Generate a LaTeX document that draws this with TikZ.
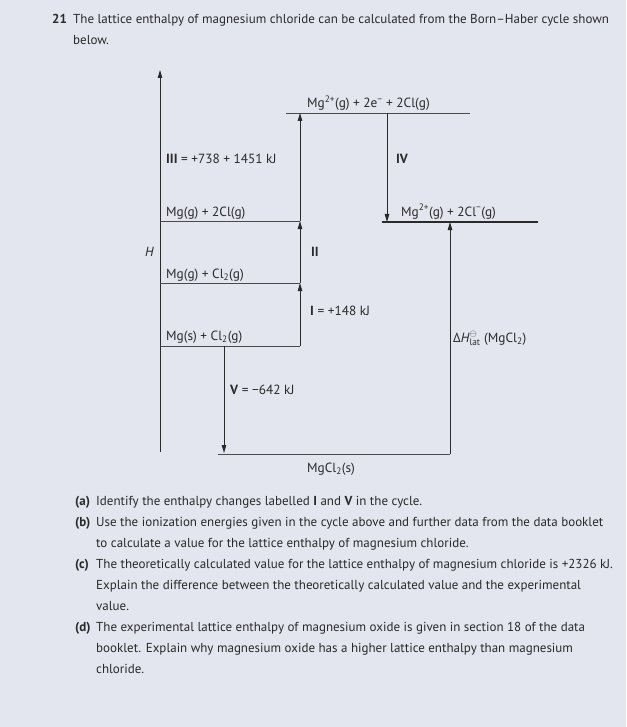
\documentclass[tikz,border=0pt]{standalone}
\usepackage{fontspec}
\setmainfont{PT Sans}
\usetikzlibrary{arrows.meta}
\definecolor{bgc}{HTML}{E3E6EE}
\definecolor{ink}{HTML}{2A2A2A}
\begin{document}
\begin{tikzpicture}[x=1pt,y=-1pt,
  txt/.style={anchor=base west,inner sep=0,font=\fontsize{13}{15}\selectfont,text=ink},
  lab/.style={anchor=base west,inner sep=0,font=\fontsize{13.3}{15}\selectfont,text=ink},
  lvl/.style={draw=ink!85,line width=0.7pt},
  arr/.style={draw=ink,line width=0.9pt,-{Triangle[length=8pt,width=4.5pt]}}]
\fill[bgc] (0,0) rectangle (626,727);
\useasboundingbox (0,0) rectangle (626,727);
% header
\node[txt,font=\fontsize{13}{15}\bfseries] (n21) at (52,24) {21};
\node[txt] (t1) at (73,24) {The lattice enthalpy of magnesium chloride can be calculated from the Born–Haber cycle shown};
\node[txt] (t2) at (73,45) {below.};
% coordinates
\coordinate (axb) at (160,452);
\coordinate (axt) at (160,70);
\coordinate (a1) at (160,346); \coordinate (b1) at (300,346);
\coordinate (a2) at (160,283); \coordinate (b2) at (300,283);
\coordinate (a3) at (160,221); \coordinate (b3) at (300,221);
\coordinate (t0) at (286,113); \coordinate (tt) at (300,113); \coordinate (t9) at (470,113);
\coordinate (ivs) at (387,113); \coordinate (ive) at (387,222);
\coordinate (r0) at (382,222); \coordinate (r9) at (538,222); \coordinate (rr) at (450,222);
\coordinate (m0) at (218,454); \coordinate (m9) at (450,454);
\coordinate (vs) at (224,346); \coordinate (ve) at (224,453);
% axis
\draw[arr] (axb) -- (axt);
% levels
\draw[lvl] (a1) -- (b1);
\draw[lvl] (a2) -- (b2);
\draw[lvl] (a3) -- (b3);
\draw[lvl] (t0) -- (t9);
\draw[draw=ink,line width=1.3pt] (r0) -- (r9);
\draw[lvl] (m0) -- (m9);
% arrows
\draw[arr] (b1) -- (b2);
\draw[arr] (b2) -- (b3);
\draw[arr] (b3) -- (tt);
\draw[arr] (ivs) -- (ive);
\draw[arr] (vs) -- (ve);
\draw[arr] (m9) -- (rr);
% labels
\node[lab] (ltop) at (307,108) {Mg\textsuperscript{2+}(g) + 2e\textsuperscript{−} + 2Cl(g)};
\node[lab] (lIII) at (166,164) {\textbf{III} = +738 + 1451 kJ};
\node[lab] (lIV) at (396,164) {\textbf{IV}};
\node[lab] (lmg2) at (166,216) {Mg(g) + 2Cl(g)};
\node[lab] (lr) at (401,216) {Mg\textsuperscript{2+}(g) + 2Cl\textsuperscript{−}(g)};
\node[lab] (lH) at (145,256) {\textit{H}};
\node[lab] (lII) at (311,256) {\textbf{II}};
\node[lab] (lmg1) at (166,278) {Mg(g) + Cl\textsubscript{2}(g)};
\node[lab] (lI) at (310,315) {\textbf{I} = +148 kJ};
\node[lab] (lmgs) at (166,340) {Mg(s) + Cl\textsubscript{2}(g)};
\node[lab] (ldh) at (453,342) {Δ\textit{H}$^{\ominus}_{\mathrm{lat}}$ (MgCl\textsubscript{2})};
\node[lab] (lV) at (230,394) {\textbf{V} = −642 kJ};
\node[lab] (lm) at (307,472) {MgCl\textsubscript{2}(s)};
% questions
\node[txt,font=\fontsize{13}{15}\bfseries] (qa) at (75,505) {(a)};
\node[txt] at (96,505) {Identify the enthalpy changes labelled \textbf{I} and \textbf{V} in the cycle.};
\node[txt,font=\fontsize{13}{15}\bfseries] (qb) at (75,526) {(b)};
\node[txt] at (96,526) {Use the ionization energies given in the cycle above and further data from the data booklet};
\node[txt] at (96,547) {to calculate a value for the lattice enthalpy of magnesium chloride.};
\node[txt,font=\fontsize{13}{15}\bfseries] (qc) at (75,568) {(c)};
\node[txt] at (96,568) {The theoretically calculated value for the lattice enthalpy of magnesium chloride is +2326 kJ.};
\node[txt] at (96,589) {Explain the difference between the theoretically calculated value and the experimental};
\node[txt] at (96,610) {value.};
\node[txt,font=\fontsize{13}{15}\bfseries] (qd) at (75,631) {(d)};
\node[txt] at (96,631) {The experimental lattice enthalpy of magnesium oxide is given in section 18 of the data};
\node[txt] at (96,652) {booklet. Explain why magnesium oxide has a higher lattice enthalpy than magnesium};
\node[txt] at (96,673) {chloride.};
\end{tikzpicture}
\end{document}
